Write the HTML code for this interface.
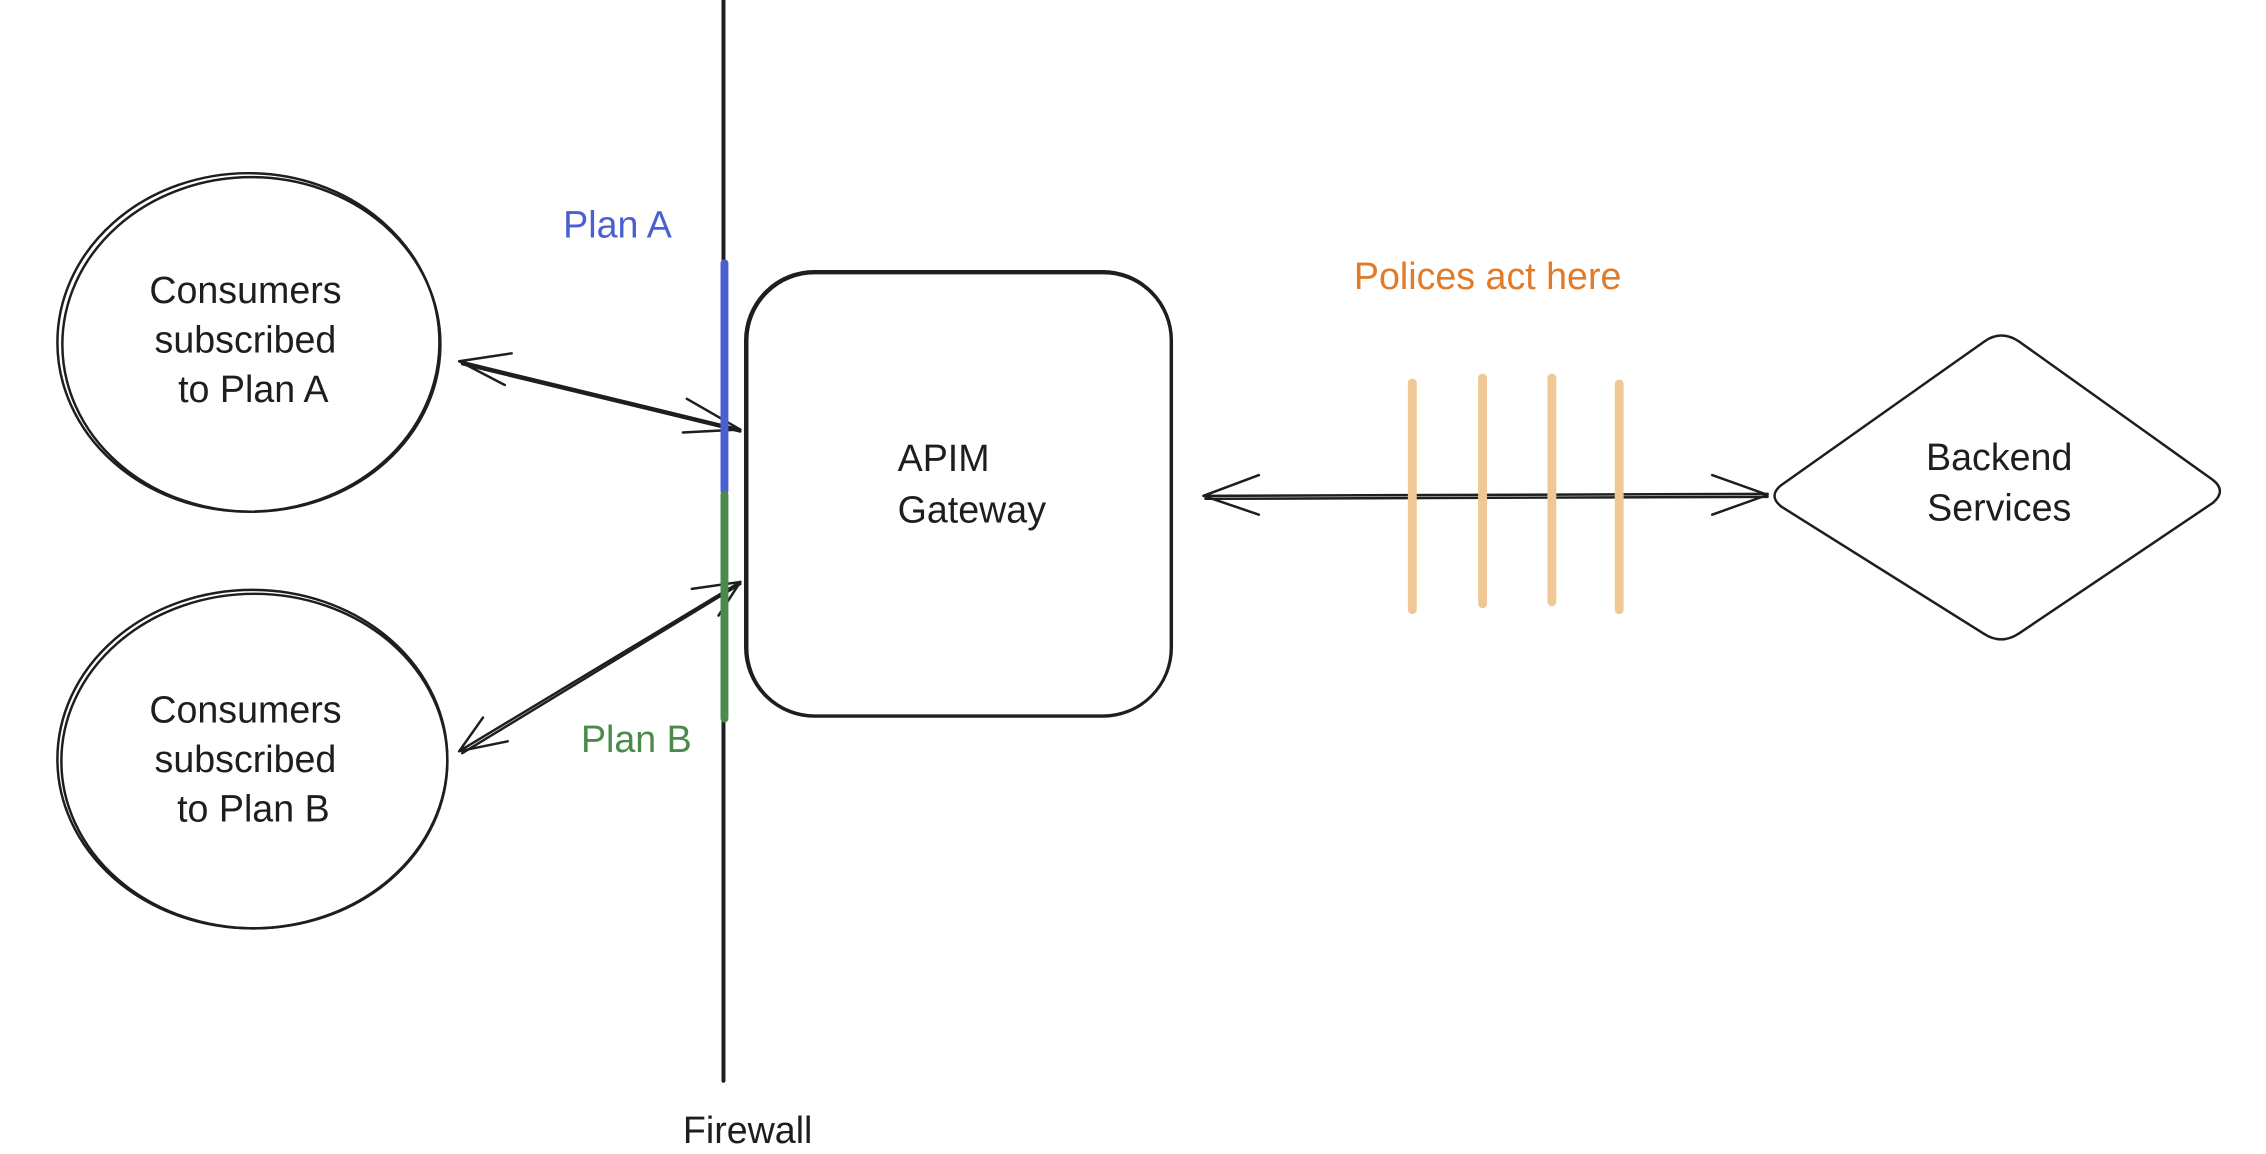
<!DOCTYPE html>
<html><head><meta charset="utf-8"><style>
html,body{margin:0;padding:0;background:#fff;}
svg{display:block;}
text{font-family:"Liberation Sans",sans-serif;font-size:38px;fill:#1e1e1e;}
</style></head><body>
<svg width="2266" height="1154" viewBox="0 0 2289 1166" preserveAspectRatio="xMinYMin meet" xmlns="http://www.w3.org/2000/svg">
<g fill="none" stroke="#1e1e1e" stroke-width="2.5" stroke-linecap="round" stroke-linejoin="round">
<line x1="731" y1="0" x2="731" y2="1092" stroke-width="4"/>
<ellipse cx="251" cy="346" rx="193" ry="171"/>
<ellipse cx="254" cy="348" rx="191" ry="169"/>
<ellipse cx="255" cy="767" rx="197" ry="171"/>
<ellipse cx="257" cy="769" rx="195" ry="169"/>
<rect x="753" y="274" width="431" height="450" rx="70"/>
<rect x="755" y="276" width="428" height="447" rx="68"/>
<path d="M1800 490 L2005 345 Q2022 333 2040 345 L2236 485 Q2250 496 2236 508 L2040 640 Q2022 652 2004 640 L1800 512 Q1786 501 1800 490 Z"/>
<line x1="464" y1="365" x2="748" y2="434"/>
<line x1="467" y1="368" x2="748" y2="436"/>
<path d="M517 357 L464 365 L510 389"/>
<path d="M694 403 L748 434 L690 437"/>
<line x1="464" y1="759" x2="748" y2="588"/>
<line x1="467" y1="761" x2="748" y2="590"/>
<path d="M488 725 L464 759 L513 749"/>
<path d="M726 622 L748 588 L699 595"/>
<line x1="1216" y1="501" x2="1786" y2="499"/>
<line x1="1218" y1="504" x2="1786" y2="502"/>
<path d="M1272 480 L1216 501 L1272 520"/>
<path d="M1730 480 L1786 500 L1730 520"/>
</g>
<line x1="732" y1="266" x2="732" y2="496" stroke="#4a5fd0" stroke-width="8" stroke-linecap="round"/>
<line x1="732" y1="500" x2="732" y2="726" stroke="#4a8a4a" stroke-width="8" stroke-linecap="round"/>
<g stroke="#f0c896" stroke-width="9" stroke-linecap="round">
<line x1="1427" y1="387" x2="1427" y2="616"/>
<line x1="1498" y1="382" x2="1498" y2="610"/>
<line x1="1568" y1="382" x2="1568" y2="608"/>
<line x1="1636" y1="388" x2="1636" y2="616"/>
</g>
<text x="569" y="240" style="fill:#4a5fd0">Plan A</text>
<text x="587" y="760" style="fill:#4a8a4a">Plan B</text>
<text x="1368" y="292" style="fill:#e07b2a">Polices act here</text>
<g text-anchor="middle">
<text x="248" y="306">Consumers</text>
<text x="248" y="356">subscribed</text>
<text x="256" y="406">to Plan A</text>
<text x="248" y="730">Consumers</text>
<text x="248" y="780">subscribed</text>
<text x="256" y="830">to Plan B</text>
<text x="2020" y="475">Backend</text>
<text x="2020" y="526">Services</text>
</g>
<text x="907" y="476">APIM</text>
<text x="907" y="528">Gateway</text>
<text x="690" y="1155">Firewall</text>
</svg>
</body></html>
